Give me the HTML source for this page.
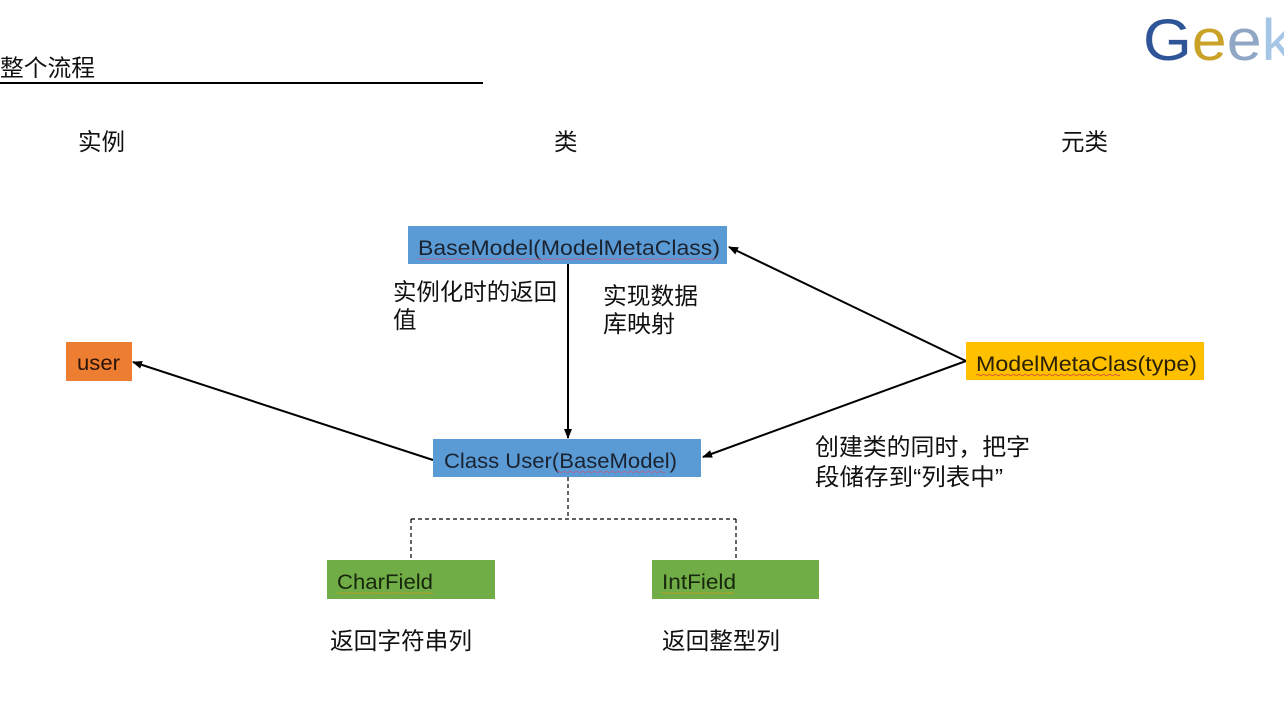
<!DOCTYPE html>
<html>
<head>
<meta charset="utf-8">
<style>
html,body{margin:0;padding:0;background:#fff;}
body{width:1284px;height:721px;overflow:hidden;}
svg{display:block;}
.cjk{font-family:"Liberation Sans","Noto Sans CJK SC",sans-serif;font-size:23.5px;fill:#111;}
.lat{font-family:"Liberation Sans","Noto Sans CJK SC",sans-serif;font-size:21px;fill:#1b2330;}
</style>
</head>
<body>
<svg width="1284" height="721" viewBox="0 0 1284 721" xmlns="http://www.w3.org/2000/svg">
  <defs>
    <marker id="ah" markerWidth="10" markerHeight="10" refX="9" refY="5" orient="auto" markerUnits="userSpaceOnUse">
      <path d="M0,1 L10,5 L0,9 Z" fill="#000"/>
    </marker>
  </defs>

  <!-- Title -->
  <text class="cjk" x="0" y="76" textLength="95" lengthAdjust="spacingAndGlyphs">整个流程</text>
  <rect x="0" y="82" width="483" height="2" fill="#000"/>

  <!-- Geek logo -->
  <text x="1143" y="60" font-family="Liberation Sans, sans-serif" font-size="58" textLength="150" lengthAdjust="spacingAndGlyphs"><tspan fill="#2e5597">G</tspan><tspan fill="#c9a227">e</tspan><tspan fill="#8fa7c4">e</tspan><tspan fill="#a6c6e6">k</tspan></text>

  <!-- column headers -->
  <text class="cjk" x="78" y="150">实例</text>
  <text class="cjk" x="554" y="150">类</text>
  <text class="cjk" x="1061" y="150">元类</text>

  <!-- connectors -->
  <line x1="568" y1="264" x2="568" y2="438" stroke="#000" stroke-width="2" marker-end="url(#ah)"/>
  <line x1="966" y1="361" x2="729" y2="247" stroke="#000" stroke-width="2" marker-end="url(#ah)"/>
  <line x1="966" y1="361" x2="703" y2="457" stroke="#000" stroke-width="2" marker-end="url(#ah)"/>
  <line x1="433" y1="460" x2="133" y2="362" stroke="#000" stroke-width="2" marker-end="url(#ah)"/>

  <!-- dashed tree -->
  <path d="M568,477 L568,519 M411,519 L736,519 M411,519 L411,560 M736,519 L736,560" stroke="#000" stroke-width="1.2" stroke-dasharray="4,3" fill="none"/>

  <!-- BaseModel box -->
  <rect x="408" y="226" width="319" height="38" fill="#5b9bd5"/>
  <text class="lat" x="418" y="255" textLength="302" lengthAdjust="spacingAndGlyphs">BaseModel(ModelMetaClass)</text>
  <path d="M418,259 q1.5,-1.5 3,0 t3,0 t3,0 t3,0 t3,0 t3,0 t3,0 t3,0 t3,0 t3,0 t3,0 t3,0 t3,0 t3,0 t3,0 t3,0 t3,0 t3,0 t3,0 t3,0 t3,0 t3,0 t3,0 t3,0 t3,0 t3,0 t3,0 t3,0 t3,0 t3,0 t3,0 t3,0 t3,0 t3,0 t3,0 t3,0 t3,0 t3,0 t3,0 t3,0 t3,0 t3,0 t3,0 t3,0 t3,0 t3,0 t3,0 t3,0 t3,0 t3,0 t3,0 t3,0 t3,0 t3,0 t3,0 t3,0 t3,0 t3,0 t3,0 t3,0 t3,0 t3,0 t3,0 t3,0 t3,0 t3,0 t3,0 t3,0 t3,0 t3,0 t3,0 t3,0 t3,0 t3,0 t3,0 t3,0 t3,0 t3,0 t3,0 t3,0 t3,0 t3,0 t3,0 t3,0 t3,0 t3,0 t3,0 t3,0 t3,0 t3,0 t3,0 t3,0 t3,0 t3,0 t3,0 t3,0 t3,0 t3,0 t3,0" stroke="#c55a8a" stroke-width="0.8" fill="none"/>

  <!-- labels around vertical arrow -->
  <text class="cjk" x="393" y="300" textLength="164" lengthAdjust="spacingAndGlyphs">实例化时的返回</text>
  <text class="cjk" x="393" y="328">值</text>
  <text class="cjk" x="603" y="304" textLength="95" lengthAdjust="spacingAndGlyphs">实现数据</text>
  <text class="cjk" x="603" y="332" textLength="72" lengthAdjust="spacingAndGlyphs">库映射</text>

  <!-- user box -->
  <rect x="66" y="342" width="66" height="39" fill="#ed7d31"/>
  <text class="lat" x="77" y="370" textLength="43" lengthAdjust="spacingAndGlyphs" style="fill:#2a1408">user</text>

  <!-- ModelMetaClas box -->
  <rect x="966" y="342" width="238" height="38" fill="#ffc000"/>
  <text class="lat" x="976" y="371" textLength="221" lengthAdjust="spacingAndGlyphs" style="fill:#2a2008">ModelMetaClas(type)</text>
  <path d="M976,375 q1.5,-1.5 3,0 t3,0 t3,0 t3,0 t3,0 t3,0 t3,0 t3,0 t3,0 t3,0 t3,0 t3,0 t3,0 t3,0 t3,0 t3,0 t3,0 t3,0 t3,0 t3,0 t3,0 t3,0 t3,0 t3,0 t3,0 t3,0 t3,0 t3,0 t3,0 t3,0 t3,0 t3,0 t3,0 t3,0 t3,0 t3,0 t3,0 t3,0 t3,0 t3,0 t3,0 t3,0 t3,0 t3,0 t3,0 t3,0 t3,0 t3,0" stroke="#d04040" stroke-width="0.8" fill="none"/>

  <!-- Class User box -->
  <rect x="433" y="439" width="268" height="38" fill="#5b9bd5"/>
  <text class="lat" x="444" y="468" textLength="233" lengthAdjust="spacingAndGlyphs">Class User(BaseModel)</text>
  <path d="M557,472 q1.5,-1.5 3,0 t3,0 t3,0 t3,0 t3,0 t3,0 t3,0 t3,0 t3,0 t3,0 t3,0 t3,0 t3,0 t3,0 t3,0 t3,0 t3,0 t3,0 t3,0 t3,0 t3,0 t3,0 t3,0 t3,0 t3,0 t3,0 t3,0 t3,0 t3,0 t3,0 t3,0 t3,0 t3,0 t3,0 t3,0 t3,0" stroke="#c55a8a" stroke-width="0.8" fill="none"/>

  <!-- note -->
  <text class="cjk" x="815" y="455" textLength="215" lengthAdjust="spacingAndGlyphs">创建类的同时，把字</text>
  <text class="cjk" x="815" y="485" textLength="188" lengthAdjust="spacingAndGlyphs">段储存到“列表中”</text>

  <!-- CharField -->
  <rect x="327" y="560" width="168" height="39" fill="#70ad47"/>
  <text class="lat" x="337" y="589" textLength="96" lengthAdjust="spacingAndGlyphs" style="fill:#17260c">CharField</text>
  <path d="M337,593 q1.5,-1.5 3,0 t3,0 t3,0 t3,0 t3,0 t3,0 t3,0 t3,0 t3,0 t3,0 t3,0 t3,0 t3,0 t3,0 t3,0 t3,0 t3,0 t3,0 t3,0 t3,0 t3,0 t3,0 t3,0 t3,0 t3,0 t3,0 t3,0 t3,0 t3,0 t3,0 t3,0 t3,0" stroke="#c8a020" stroke-width="0.8" fill="none"/>

  <!-- IntField -->
  <rect x="652" y="560" width="167" height="39" fill="#70ad47"/>
  <text class="lat" x="662" y="589" textLength="74" lengthAdjust="spacingAndGlyphs" style="fill:#17260c">IntField</text>
  <path d="M662,593 q1.5,-1.5 3,0 t3,0 t3,0 t3,0 t3,0 t3,0 t3,0 t3,0 t3,0 t3,0 t3,0 t3,0 t3,0 t3,0 t3,0 t3,0 t3,0 t3,0 t3,0 t3,0 t3,0 t3,0 t3,0 t3,0" stroke="#c8a020" stroke-width="0.8" fill="none"/>

  <!-- field captions -->
  <text class="cjk" x="330" y="649" textLength="142" lengthAdjust="spacingAndGlyphs">返回字符串列</text>
  <text class="cjk" x="662" y="649" textLength="118" lengthAdjust="spacingAndGlyphs">返回整型列</text>
</svg>
</body>
</html>
